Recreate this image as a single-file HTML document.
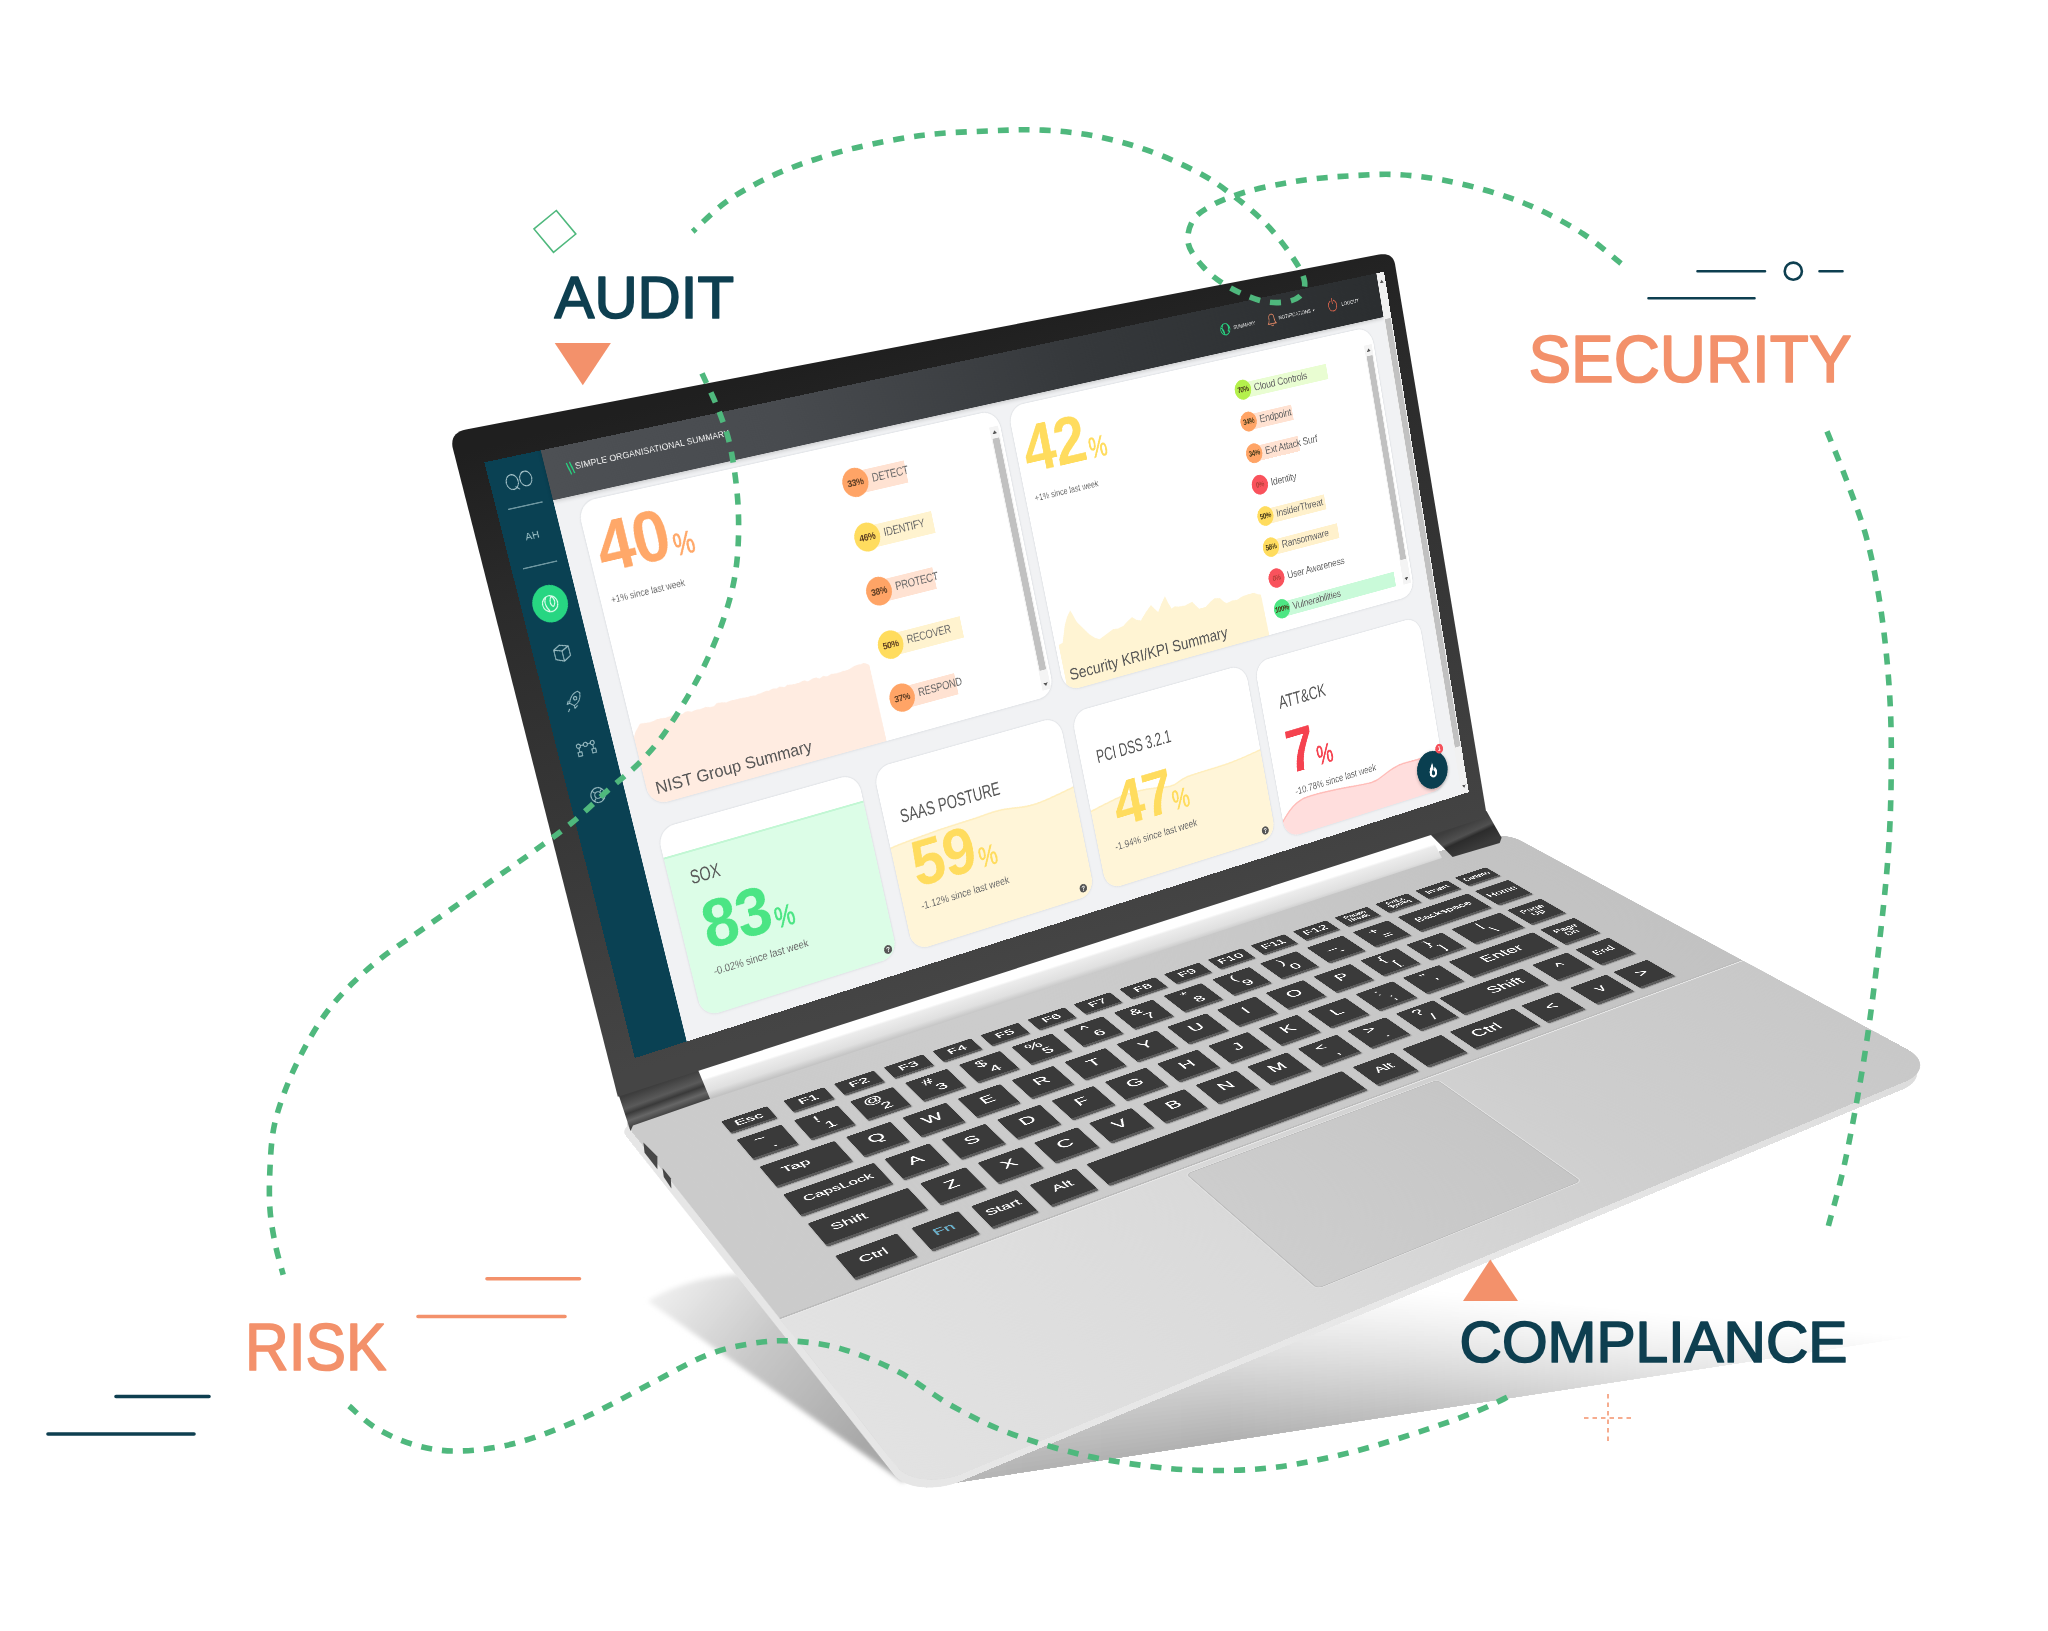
<!DOCTYPE html>
<html><head><meta charset="utf-8"><title>Laptop</title>
<style>
html,body{margin:0;padding:0}
body{width:2048px;height:1631px;position:relative;overflow:hidden;background:#fff;font-family:"Liberation Sans",sans-serif}
svg{display:block}
.layer{position:absolute;left:0;top:0;width:2048px;height:1631px}
#screen{position:absolute;left:0;top:0;width:1600px;height:900px;transform-origin:0 0;background:#f1f2f4;overflow:hidden;font-family:"Liberation Sans",sans-serif}
#screen .sb{position:absolute;left:0;top:0;width:86px;height:900px;background:#0a4153}
#screen .ah{position:absolute;left:0;width:86px;top:105px;text-align:center;color:#9fc3c9;font-size:15px;letter-spacing:.5px}
#screen .hd{position:absolute;left:86px;top:0;width:1498px;height:72px;background:linear-gradient(90deg,#4d5054 0%,#484b4f 25%,#35383b 60%,#2b2e30 100%);box-shadow:0 2px 6px rgba(0,0,0,.18)}
#screen .ht{position:absolute;white-space:nowrap}
#screen .osb{position:absolute;left:1584px;top:0;width:16px;height:900px;background:#f1f1f1}
#screen .osb b,#screen .isb b{position:absolute;left:2px;right:2px;background:#c1c1c1;display:block}
#screen .isb{position:absolute;width:16px;background:#f4f4f4}
#screen i.up,#screen i.dn{position:absolute;left:4px;width:0;height:0;border-left:4px solid transparent;border-right:4px solid transparent}
#screen i.up{border-bottom:5px solid #555}
#screen i.dn{border-top:5px solid #555}
#screen .card{position:absolute;background:#fff;border-radius:28px;overflow:hidden;box-shadow:0 0 0 1.5px #e4e6e9,0 1px 5px rgba(0,0,0,.06)}
#screen .big{position:absolute;font-weight:bold;font-size:104px;line-height:1;letter-spacing:-1.5px;white-space:nowrap}
#screen .big span{font-weight:normal;font-size:46px;margin-left:4px;-webkit-text-stroke:1px currentColor;letter-spacing:0;display:inline-block;transform:scaleX(.82);transform-origin:0 50%}
#screen .cap{position:absolute;font-size:14.5px;color:#6a6a6a;white-space:nowrap;transform:scaleX(.9);transform-origin:0 50%}
#screen .cap.c2{font-size:17px;transform:scaleX(.93)}
#screen .ttl{position:absolute;font-size:26.5px;color:#555;white-space:nowrap}
#screen .st{position:absolute;font-size:30px;color:#555;white-space:nowrap;transform:scaleX(.8);transform-origin:0 50%;line-height:1}
#screen .pl{position:absolute;left:421px;height:44px;width:260px}
#screen .pl b{position:absolute;left:0;top:0;width:44px;height:44px;border-radius:50%;font-size:14.5px;line-height:44px;text-align:center;color:#5a3b22;font-weight:bold;letter-spacing:-.5px}
#screen .pl u{position:absolute;left:22px;top:6px;height:34px;display:block}
#screen .pl em{position:absolute;left:51px;top:11px;font-style:normal;font-size:18px;color:#666;white-space:nowrap;letter-spacing:-.3px;transform:scaleX(.9);transform-origin:0 50%}
#screen .ps{position:absolute;left:420px;height:32px;width:280px}
#screen .ps b{position:absolute;left:0;top:0;width:32px;height:32px;border-radius:50%;font-size:12px;line-height:32px;text-align:center;color:#4a3d1c;font-weight:bold;letter-spacing:-.8px}
#screen .ps u{position:absolute;left:16px;top:5px;height:25px;display:block}
#screen .ps em{position:absolute;left:38px;top:7px;font-style:normal;font-size:17px;color:#666;white-space:nowrap;letter-spacing:-.4px}
#screen .q{position:absolute;width:14px;height:14px;border-radius:50%;background:#555;color:#fff;font-size:11px;font-weight:bold;line-height:14px;text-align:center}
#screen .fab{position:absolute;left:1498px;top:809px;width:66px;height:66px;border-radius:50%;background:#0a3f50;box-shadow:0 2px 6px rgba(0,0,0,.3)}
#screen .fab em{position:absolute;left:46px;top:-8px;width:17px;height:17px;border-radius:50%;background:#f5505a;color:#fff;font-size:11px;font-style:normal;font-weight:bold;line-height:17px;text-align:center}
/* keyboard */
#base{position:absolute;left:0;top:0;width:1600px;height:620px;transform-origin:0 0;font-family:"Liberation Sans",sans-serif}
#base .deck{position:absolute;left:-137px;top:-125px;width:1875px;height:1290px;clip-path:path("M40 0L1809 0A55 65 0 0 1 1864.5 65L1875 1210A80 80 0 0 1 1795 1290L76 1290A70 70 0 0 1 6 1220L0 40A40 40 0 0 1 40 0Z");background:linear-gradient(90deg,#cbcbcb 0%,#cccccc 40%,#c2c2c2 100%)}
#base .palm{position:absolute;left:0;top:766px;width:1875px;height:524px;background:linear-gradient(90deg,#e2e2e2 0%,#dadada 35%,#cecece 70%,#c8c8c8 100%);border-top:4px solid #bcbcbc;box-shadow:inset 0 3px 0 #e6e6e6;box-sizing:border-box}
#base .tp{position:absolute;left:556px;top:662px;width:492px;height:419px;border-radius:10px;background:linear-gradient(90deg,#cdcdcd,#c6c6c6);box-shadow:0 0 0 2px #bdbdbd inset, 0 0 0 2px #e0e0e0}
#base .k{position:absolute;height:78px;background:#3a3a3a;border-radius:4px;border-bottom:8px solid #5c5c5c;box-shadow:0 3px 3px rgba(0,0,0,.25);color:#fff;font-size:37px;line-height:72px;text-shadow:0 0 1.2px rgba(255,255,255,.85);text-align:center;white-space:nowrap;overflow:hidden}
#base .k.f{height:47px;border-bottom-width:7px;font-size:30px;line-height:46px}
#base .k.w{font-size:30px}
#base .k.l{text-align:left;padding-left:26px;box-sizing:content-box}
#base .k.d{font-size:34px;line-height:31px;padding-top:6px;height:72px}
#base .k.d span{display:block}
#base .k.d .u{transform:translateX(-7px)}
#base .k.d .v{transform:translateX(7px)}
#base .k.s{font-size:22px;line-height:21px;padding-top:16px;height:62px}
#base .k.f.s{font-size:18px;line-height:16px;padding-top:7px;height:40px;letter-spacing:-.5px}

#screen{transform:matrix3d(0.7143318991,-0.08926903759,0,0.0001098857652,0.2101890248,0.7334889474,0,6.767491356e-05,0,0,1,0,484.4,462.3,0,1)}
#base,#base2{transform:matrix3d(0.6309046546,-0.06972183634,0,0.0001028057699,0.07278772522,0.03980206385,0,-0.0001699934285,0,0,1,0,721.1,1121.4,0,1)}
</style></head>
<body>
<!-- shadows -->
<svg class="layer" viewBox="0 0 2048 1631">
 <defs>
  <linearGradient id="shH" gradientUnits="userSpaceOnUse" x1="900" y1="0" x2="1915" y2="0">
   <stop offset="0" stop-color="#000" stop-opacity=".27"/><stop offset=".12" stop-color="#000" stop-opacity=".30"/><stop offset=".32" stop-color="#000" stop-opacity=".31"/><stop offset=".5" stop-color="#000" stop-opacity=".25"/><stop offset=".68" stop-color="#000" stop-opacity=".15"/><stop offset=".86" stop-color="#000" stop-opacity=".06"/><stop offset="1" stop-color="#000" stop-opacity="0"/>
  </linearGradient>
  <linearGradient id="shL" gradientUnits="userSpaceOnUse" x1="660" y1="1285" x2="860" y2="1450">
   <stop offset="0" stop-color="#efefef"/><stop offset=".45" stop-color="#c8c8c8"/><stop offset="1" stop-color="#a8a8a8"/>
  </linearGradient>
  <mask id="shM" maskUnits="userSpaceOnUse" x="850" y="1150" width="1198" height="481"><rect x="850" y="1150" width="1198" height="481" fill="#000"/><path d="M1915.0 1336.0L860.0 1497.2L860.0 1230.5Z" fill="rgb(1,1,1)"/><path d="M1915.0 1336.0L860.0 1497.2L860.0 1236.1Z" fill="rgb(3,3,3)"/><path d="M1915.0 1336.0L860.0 1497.2L860.0 1241.6Z" fill="rgb(6,6,6)"/><path d="M1915.0 1336.0L860.0 1497.2L860.0 1247.2Z" fill="rgb(10,10,10)"/><path d="M1915.0 1336.0L860.0 1497.2L860.0 1252.7Z" fill="rgb(13,13,13)"/><path d="M1915.0 1336.0L860.0 1497.2L860.0 1258.3Z" fill="rgb(17,17,17)"/><path d="M1915.0 1336.0L860.0 1497.2L860.0 1263.8Z" fill="rgb(21,21,21)"/><path d="M1915.0 1336.0L860.0 1497.2L860.0 1269.4Z" fill="rgb(25,25,25)"/><path d="M1915.0 1336.0L860.0 1497.2L860.0 1275.0Z" fill="rgb(29,29,29)"/><path d="M1915.0 1336.0L860.0 1497.2L860.0 1280.5Z" fill="rgb(34,34,34)"/><path d="M1915.0 1336.0L860.0 1497.2L860.0 1286.1Z" fill="rgb(38,38,38)"/><path d="M1915.0 1336.0L860.0 1497.2L860.0 1291.6Z" fill="rgb(43,43,43)"/><path d="M1915.0 1336.0L860.0 1497.2L860.0 1297.2Z" fill="rgb(47,47,47)"/><path d="M1915.0 1336.0L860.0 1497.2L860.0 1302.7Z" fill="rgb(52,52,52)"/><path d="M1915.0 1336.0L860.0 1497.2L860.0 1308.3Z" fill="rgb(57,57,57)"/><path d="M1915.0 1336.0L860.0 1497.2L860.0 1313.8Z" fill="rgb(62,62,62)"/><path d="M1915.0 1336.0L860.0 1497.2L860.0 1319.4Z" fill="rgb(67,67,67)"/><path d="M1915.0 1336.0L860.0 1497.2L860.0 1325.0Z" fill="rgb(72,72,72)"/><path d="M1915.0 1336.0L860.0 1497.2L860.0 1330.5Z" fill="rgb(77,77,77)"/><path d="M1915.0 1336.0L860.0 1497.2L860.0 1336.1Z" fill="rgb(83,83,83)"/><path d="M1915.0 1336.0L860.0 1497.2L860.0 1341.6Z" fill="rgb(88,88,88)"/><path d="M1915.0 1336.0L860.0 1497.2L860.0 1347.2Z" fill="rgb(93,93,93)"/><path d="M1915.0 1336.0L860.0 1497.2L860.0 1352.7Z" fill="rgb(99,99,99)"/><path d="M1915.0 1336.0L860.0 1497.2L860.0 1358.3Z" fill="rgb(104,104,104)"/><path d="M1915.0 1336.0L860.0 1497.2L860.0 1363.9Z" fill="rgb(110,110,110)"/><path d="M1915.0 1336.0L860.0 1497.2L860.0 1369.4Z" fill="rgb(116,116,116)"/><path d="M1915.0 1336.0L860.0 1497.2L860.0 1375.0Z" fill="rgb(121,121,121)"/><path d="M1915.0 1336.0L860.0 1497.2L860.0 1380.5Z" fill="rgb(127,127,127)"/><path d="M1915.0 1336.0L860.0 1497.2L860.0 1386.1Z" fill="rgb(133,133,133)"/><path d="M1915.0 1336.0L860.0 1497.2L860.0 1391.6Z" fill="rgb(139,139,139)"/><path d="M1915.0 1336.0L860.0 1497.2L860.0 1397.2Z" fill="rgb(145,145,145)"/><path d="M1915.0 1336.0L860.0 1497.2L860.0 1402.7Z" fill="rgb(151,151,151)"/><path d="M1915.0 1336.0L860.0 1497.2L860.0 1408.3Z" fill="rgb(157,157,157)"/><path d="M1915.0 1336.0L860.0 1497.2L860.0 1413.9Z" fill="rgb(163,163,163)"/><path d="M1915.0 1336.0L860.0 1497.2L860.0 1419.4Z" fill="rgb(169,169,169)"/><path d="M1915.0 1336.0L860.0 1497.2L860.0 1425.0Z" fill="rgb(175,175,175)"/><path d="M1915.0 1336.0L860.0 1497.2L860.0 1430.5Z" fill="rgb(181,181,181)"/><path d="M1915.0 1336.0L860.0 1497.2L860.0 1436.1Z" fill="rgb(187,187,187)"/><path d="M1915.0 1336.0L860.0 1497.2L860.0 1441.6Z" fill="rgb(194,194,194)"/><path d="M1915.0 1336.0L860.0 1497.2L860.0 1447.2Z" fill="rgb(200,200,200)"/><path d="M1915.0 1336.0L860.0 1497.2L860.0 1452.8Z" fill="rgb(206,206,206)"/><path d="M1915.0 1336.0L860.0 1497.2L860.0 1458.3Z" fill="rgb(213,213,213)"/><path d="M1915.0 1336.0L860.0 1497.2L860.0 1463.9Z" fill="rgb(219,219,219)"/><path d="M1915.0 1336.0L860.0 1497.2L860.0 1469.4Z" fill="rgb(225,225,225)"/><path d="M1915.0 1336.0L860.0 1497.2L860.0 1475.0Z" fill="rgb(232,232,232)"/><path d="M1915.0 1336.0L860.0 1497.2L860.0 1480.5Z" fill="rgb(239,239,239)"/><path d="M1915.0 1336.0L860.0 1497.2L860.0 1486.1Z" fill="rgb(245,245,245)"/><path d="M1915.0 1336.0L860.0 1497.2L860.0 1491.6Z" fill="rgb(252,252,252)"/></mask>
  <filter id="blL" x="-10%" y="-10%" width="120%" height="120%"><feGaussianBlur stdDeviation="2.5"/></filter>
  <clipPath id="shC"><path d="M928 1480L1010 1380L2048 1150V1631H900Z"/></clipPath>
 </defs>
 <g clip-path="url(#shC)"><rect x="850" y="1150" width="1198" height="481" fill="url(#shH)" mask="url(#shM)"/></g>
 <path d="M648 1301C667 1289 700 1276 744 1274L800 1330L915 1470L903 1482Z" fill="url(#shL)" filter="url(#blL)"/>
</svg>
<!-- base underside (thickness) -->
<div id="base2" style="position:absolute;left:0;top:0;width:1600px;height:620px;transform-origin:0 0;margin-left:-2.8px;margin-top:8px">
 <div style="position:absolute;left:-137px;top:-125px;width:1875px;height:1290px;clip-path:path(&quot;M40 0L1809 0A55 65 0 0 1 1864.5 65L1875 1210A80 80 0 0 1 1795 1290L76 1290A70 70 0 0 1 6 1220L0 40A40 40 0 0 1 40 0Z&quot;);background:linear-gradient(90deg,#e6e6e6 0%,#e8e8e8 50%,#dcdcdc 100%)"></div>
</div>
<div id="base">
 <div class="deck"><div class="palm"></div></div>
 <div class="tp"></div>
<div class="k f" style="left:0px;top:0px;width:83px;">Esc</div>
<div class="k f" style="left:113.0px;top:0px;width:75px;">F1</div>
<div class="k f" style="left:207.1px;top:0px;width:75px;">F2</div>
<div class="k f" style="left:301.1px;top:0px;width:75px;">F3</div>
<div class="k f" style="left:395.2px;top:0px;width:75px;">F4</div>
<div class="k f" style="left:489.3px;top:0px;width:75px;">F5</div>
<div class="k f" style="left:583.3px;top:0px;width:75px;">F6</div>
<div class="k f" style="left:677.4px;top:0px;width:75px;">F7</div>
<div class="k f" style="left:771.5px;top:0px;width:75px;">F8</div>
<div class="k f" style="left:865.6px;top:0px;width:75px;">F9</div>
<div class="k f" style="left:959.6px;top:0px;width:75px;">F10</div>
<div class="k f" style="left:1053.7px;top:0px;width:75px;">F11</div>
<div class="k f" style="left:1147.8px;top:0px;width:75px;">F12</div>
<div class="k f s" style="left:1241.8px;top:0px;width:75px;">Pause<br>Break</div>
<div class="k f s" style="left:1335.9px;top:0px;width:75px;">PrtSc<br>SysRq</div>
<div class="k f" style="left:1430.0px;top:0px;width:75px;font-size:22px;letter-spacing:-.5px">Insert</div>
<div class="k f" style="left:1524.0px;top:0px;width:75px;font-size:22px;letter-spacing:-.5px">Delete</div>
<div class="k d" style="left:0px;top:78px;width:80px;"><span class="u">~</span><span class="v">.</span></div>
<div class="k d" style="left:103px;top:78px;width:80px;"><span class="u">!</span><span class="v">1</span></div>
<div class="k d" style="left:206px;top:78px;width:80px;"><span class="u">@</span><span class="v">2</span></div>
<div class="k d" style="left:309px;top:78px;width:80px;"><span class="u">#</span><span class="v">3</span></div>
<div class="k d" style="left:412px;top:78px;width:80px;"><span class="u">$</span><span class="v">4</span></div>
<div class="k d" style="left:515px;top:78px;width:80px;"><span class="u">%</span><span class="v">5</span></div>
<div class="k d" style="left:618px;top:78px;width:80px;"><span class="u">^</span><span class="v">6</span></div>
<div class="k d" style="left:721px;top:78px;width:80px;"><span class="u">&amp;</span><span class="v">7</span></div>
<div class="k d" style="left:824px;top:78px;width:80px;"><span class="u">*</span><span class="v">8</span></div>
<div class="k d" style="left:927px;top:78px;width:80px;"><span class="u">(</span><span class="v">9</span></div>
<div class="k d" style="left:1030px;top:78px;width:80px;"><span class="u">)</span><span class="v">0</span></div>
<div class="k d" style="left:1133px;top:78px;width:80px;"><span class="u">_</span><span class="v">-</span></div>
<div class="k d" style="left:1236px;top:78px;width:80px;"><span class="u">+</span><span class="v">=</span></div>
<div class="k w" style="left:1339px;top:78px;width:164px;font-size:26px">Backspace</div>
<div class="k w" style="left:1520px;top:78px;width:80px;font-size:25px">Home</div>
<div class="k w l" style="left:0px;top:190px;width:107px;">Tap</div>
<div class="k " style="left:154px;top:190px;width:81px;">Q</div>
<div class="k " style="left:257px;top:190px;width:81px;">W</div>
<div class="k " style="left:360px;top:190px;width:81px;">E</div>
<div class="k " style="left:463px;top:190px;width:81px;">R</div>
<div class="k " style="left:566px;top:190px;width:81px;">T</div>
<div class="k " style="left:669px;top:190px;width:81px;">Y</div>
<div class="k " style="left:772px;top:190px;width:81px;">U</div>
<div class="k " style="left:875px;top:190px;width:81px;">I</div>
<div class="k " style="left:978px;top:190px;width:81px;">O</div>
<div class="k " style="left:1081px;top:190px;width:81px;">P</div>
<div class="k d" style="left:1184px;top:190px;width:81px;"><span class="u">{</span><span class="v">[</span></div>
<div class="k d" style="left:1287px;top:190px;width:81px;"><span class="u">}</span><span class="v">]</span></div>
<div class="k d" style="left:1390px;top:190px;width:113px;"><span class="u">|</span><span class="v">\</span></div>
<div class="k s" style="left:1520px;top:190px;width:80px;">Page<br>Up</div>
<div class="k w l" style="left:0px;top:301px;width:137px;font-size:27px;padding-left:22px">CapsLock</div>
<div class="k " style="left:178px;top:301px;width:81px;">A</div>
<div class="k " style="left:281px;top:301px;width:81px;">S</div>
<div class="k " style="left:384px;top:301px;width:81px;">D</div>
<div class="k " style="left:487px;top:301px;width:81px;">F</div>
<div class="k " style="left:590px;top:301px;width:81px;">G</div>
<div class="k " style="left:693px;top:301px;width:81px;">H</div>
<div class="k " style="left:796px;top:301px;width:81px;">J</div>
<div class="k " style="left:899px;top:301px;width:81px;">K</div>
<div class="k " style="left:1002px;top:301px;width:81px;">L</div>
<div class="k d" style="left:1105px;top:301px;width:81px;"><span class="u">:</span><span class="v">;</span></div>
<div class="k d" style="left:1208px;top:301px;width:81px;"><span class="u">&quot;</span><span class="v">'</span></div>
<div class="k " style="left:1310px;top:301px;width:193px;">Enter</div>
<div class="k s" style="left:1520px;top:301px;width:80px;">Page<br>Dn</div>
<div class="k w l" style="left:0px;top:412px;width:147px;">Shift</div>
<div class="k " style="left:195px;top:412px;width:81px;">Z</div>
<div class="k " style="left:298px;top:412px;width:81px;">X</div>
<div class="k " style="left:401px;top:412px;width:81px;">C</div>
<div class="k " style="left:504px;top:412px;width:81px;">V</div>
<div class="k " style="left:607px;top:412px;width:81px;">B</div>
<div class="k " style="left:710px;top:412px;width:81px;">N</div>
<div class="k " style="left:813px;top:412px;width:81px;">M</div>
<div class="k d" style="left:916px;top:412px;width:81px;"><span class="u">&lt;</span><span class="v">,</span></div>
<div class="k d" style="left:1019px;top:412px;width:81px;"><span class="u">&gt;</span><span class="v">.</span></div>
<div class="k d" style="left:1122px;top:412px;width:81px;"><span class="u">?</span><span class="v">/</span></div>
<div class="k " style="left:1216px;top:412px;width:184px;"><span style="padding-left:60px">Shift</span></div>
<div class="k " style="left:1423px;top:412px;width:80px;">^</div>
<div class="k w" style="left:1522px;top:412px;width:78px;font-size:25px">End</div>
<div class="k w l" style="left:0px;top:531px;width:78px;">Ctrl</div>
<div class="k w" style="left:129px;top:531px;width:81px;"><span style="color:#5fb0cf">Fn</span></div>
<div class="k w" style="left:233px;top:531px;width:80px;font-size:28px">Start</div>
<div class="k w" style="left:337px;top:531px;width:83px;">Alt</div>
<div class="k " style="left:440px;top:531px;width:495px;"></div>
<div class="k w" style="left:957px;top:531px;width:83px;">Alt</div>
<div class="k " style="left:1060px;top:531px;width:82px;"></div>
<div class="k l" style="left:1160px;top:531px;width:112px;">Ctrl</div>
<div class="k " style="left:1315px;top:531px;width:82px;">&lt;</div>
<div class="k " style="left:1424px;top:531px;width:82px;">v</div>
<div class="k " style="left:1522px;top:531px;width:78px;">&gt;</div>
</div>
<!-- lid -->
<svg class="layer" viewBox="0 0 2048 1631">
 <defs>
  <linearGradient id="lidg" gradientUnits="userSpaceOnUse" x1="900" y1="340" x2="1060" y2="960">
   <stop offset="0" stop-color="#1f1f1f"/><stop offset=".25" stop-color="#2b2b2b"/><stop offset="1" stop-color="#454545"/>
  </linearGradient>
  <linearGradient id="barg" gradientUnits="userSpaceOnUse" x1="1060" y1="955" x2="1069" y2="983">
   <stop offset="0" stop-color="#ffffff"/><stop offset=".3" stop-color="#ffffff"/><stop offset=".38" stop-color="#ececec"/><stop offset=".75" stop-color="#e0e0e0"/><stop offset="1" stop-color="#c2c2c2"/>
  </linearGradient>
  <linearGradient id="hng" gradientUnits="userSpaceOnUse" x1="655" y1="1085" x2="667" y2="1118">
   <stop offset="0" stop-color="#3d3d3d"/><stop offset=".35" stop-color="#5a5a5a"/><stop offset=".5" stop-color="#3a3a3a"/><stop offset=".7" stop-color="#666"/><stop offset="1" stop-color="#2e2e2e"/>
  </linearGradient>
  <linearGradient id="hng2" gradientUnits="userSpaceOnUse" x1="1455" y1="828" x2="1466" y2="852">
   <stop offset="0" stop-color="#3d3d3d"/><stop offset=".4" stop-color="#505050"/><stop offset=".55" stop-color="#2c2c2c"/><stop offset="1" stop-color="#3a3a3a"/>
  </linearGradient>
 </defs>
 <!-- hinge bar -->
 <path d="M694 1071L1430 835L1442 858L708 1100Z" fill="url(#barg)"/>
 <!-- hinges -->
 <path d="M617 1090L696 1065L710 1098.7L633 1125.5L630.5 1131Z" fill="url(#hng)"/>
 <path d="M1426 830L1486.5 811L1501.6 837.7L1499.7 843L1452.6 857Z" fill="url(#hng2)"/>
 <!-- lid body -->
 <path d="M452.5 447C451 437 456 431.5 466 429.5L1379 254.5C1388 253 1393.5 256 1395 264L1487 817L617.8 1096.7Z" fill="url(#lidg)"/>
 <!-- ports -->
 <path d="M643.4 1142.5L657.4 1156.5L657.4 1169.3L644.6 1152.7Z" fill="#474747"/>
 <path d="M662.5 1168L670.8 1178.2L671.4 1188.4L663.8 1176.9Z" fill="#474747"/>
</svg>
<div id="screen">
 <div class="sb">
  <svg width="86" height="900" viewBox="0 0 86 900" style="position:absolute;left:0;top:0">
   <g fill="none" stroke="#b9d3d8" stroke-width="1.3">
    <ellipse cx="33" cy="35" rx="9" ry="10.5"/><ellipse cx="54" cy="34" rx="9" ry="10.5"/><path d="M36 42l6 5"/>
   </g>
   <path d="M17 71H70M17 157H70" stroke="#8fb3ba" stroke-width="1.6"/>
   <circle cx="44" cy="214" r="27" fill="#27d682"/>
   <g fill="none" stroke="#eafff4" stroke-width="1.6">
    <circle cx="44" cy="214" r="11.5"/><path d="M40 204c-5 5-4 13 1 20M48 204c3 3 6 9 0 15-4-2-5-9 0-15"/>
   </g>
   <g fill="none" stroke="#9fc0c6" stroke-width="1.5" stroke-linejoin="round">
    <path d="M32 280l10-5 13 4v14l-11 6-12-5zM32 280l12 4 11-5M44 284v15"/>
    <path d="M52 346c-8 1-14 7-16 14l6 5c7-2 12-8 13-16zM36 360l-4 1 3-5M42 365l0 4 5-3M34 368l-3 4"/><circle cx="46" cy="355" r="2.5"/>
    <circle cx="33" cy="424" r="3"/><circle cx="44" cy="424" r="3"/><circle cx="55" cy="424" r="3"/><path d="M36 424h5M47 424h5M33 427v6M55 427v6"/><rect x="30" y="433" width="6" height="6"/><rect x="52" y="433" width="6" height="6"/>
    <circle cx="44" cy="501" r="11"/><circle cx="44" cy="501" r="5"/><path d="M36 493l4 4M52 493l-4 4M36 509l4-4M52 509l-4-4"/>
   </g>
  </svg>
  <div class="ah">AH</div>
 </div>
 <div class="hd">
  <svg width="1500" height="72" viewBox="86 0 1500 72" style="position:absolute;left:0;top:0">
   <path d="M119 25l4 17M124 24l4 17" stroke="#27d682" stroke-width="2"/>
   <g fill="none" stroke-width="1.4">
    <g transform="translate(8 0)"><circle cx="1262" cy="37" r="9" stroke="#27d682"/><path d="M1259 29c-4 4-3 10 1 16M1266 29c3 3 4 8 0 12M1254 34c4 2 6 6 5 11M1270 33c-3 3-3 7-1 10" stroke="#27d682"/></g>
    <path transform="translate(18 0)" d="M1336 44h16c-3-3-3-6-3-10 0-7-10-7-10 0 0 4 0 7-3 10zM1342 46c1 2 3 2 4 0" stroke="#e88a66"/>
    <path d="M1483 28c-8 4-6 17 3 17s11-13 3-17M1486 24v10" stroke="#e8694f"/>
   </g>
  </svg>
  <div class="ht" style="left:45px;top:24px;font-size:13.5px;letter-spacing:0.1px;color:#f2f2f2">SIMPLE ORGANISATIONAL SUMMARY</div>
  <div class="ht" style="left:1200px;top:32px;font-size:8.5px;color:#e8e8e8">SUMMARY</div>
  <div class="ht" style="left:1290px;top:32px;font-size:8.5px;color:#e8e8e8">NOTIFICATIONS <span style="display:inline-block;width:0;height:0;border-left:2.5px solid transparent;border-right:2.5px solid transparent;border-top:3.5px solid #e8e8e8;vertical-align:middle;margin-left:2px"></span></div>
  <div class="ht" style="left:1418px;top:32px;font-size:8.5px;color:#e8e8e8">LOGOUT</div>
 </div>
 <div class="osb"><i class="up" style="top:12px"></i><b style="top:76px;height:740px"></b><i class="dn" style="bottom:10px"></i></div>

 <!-- Card 1 -->
 <div class="card" style="left:120px;top:83px;width:708px;height:455px">
  <svg width="708" height="455" style="position:absolute;left:0;top:0"><path fill="#ffece1" d="M0 349L4 342L10 336L14 332.1L20 332.5L28 333.5L33 333.4L41 332.1L47 331.9L55 333.1L63 332.6L69 332.0L75 334.3L83 333.9L88 331.8L93 332.3L98 334.2L105 332.9L113 333.8L121 332.6L129 334.7L135 334.4L140 331.3L148 332.0L156 334.0L163 332.7L171 333.3L179 333.3L186 333.7L191 334.3L197 333.7L204 334.7L209 333.8L215 333.5L222 332.2L227 332.9L235 331.5L240 332.7L246 331.3L254 334.0L259 331.4L264 332.6L271 333.2L278 333.0L283 332.3L288 331.6L293 334.6L301 332.2L308 331.8L313 334.7L320 332.3L326 334.4L334 332.6L342 333.5L347 333.4L354 332.8L362 333L368 331.5L374 330L380 329L386 329.5L392 329L396 331L400 334L401 456L0 456Z"/></svg>
  <div class="big" style="left:14px;top:18px;color:#ffa869">40<span>%</span></div>
  <div class="cap" style="left:16px;top:138px">+1% since last week</div>
  <div class="ttl" style="left:14px;top:416px">NIST Group Summary</div>
  <div class="pl" style="top:38px"><u style="width:88px;background:#ffe2d2"></u><b style="background:#ffa466">33%</b><em>DETECT</em></div>
  <div class="pl" style="top:122px"><u style="width:116px;background:#fff3cf"></u><b style="background:#ffdc5e">46%</b><em>IDENTIFY</em></div>
  <div class="pl" style="top:206px"><u style="width:98px;background:#ffe2d2"></u><b style="background:#ffa466">38%</b><em>PROTECT</em></div>
  <div class="pl" style="top:290px"><u style="width:127px;background:#fff3cf"></u><b style="background:#ffdc5e">50%</b><em>RECOVER</em></div>
  <div class="pl" style="top:374px"><u style="width:97px;background:#ffe2d2"></u><b style="background:#ffa466">37%</b><em>RESPOND</em></div>
  <div class="isb" style="left:688px;top:24px;height:420px"><i class="up" style="top:6px"></i><b style="top:18px;height:370px"></b><i class="dn" style="bottom:6px"></i></div>
 </div>

 <!-- Card 2 -->
 <div class="card" style="left:847px;top:83px;width:708px;height:455px">
  <svg width="702" height="455" style="position:absolute;left:6px;top:0"><path fill="#fff4d3" d="M-4 381L8 378L18 352L25 340L33 331L41 352L50 364L59 376L68 384L76 388L90 383L104 378L114 379L124 377L134 371L143 367L150 373L158 376L170 365L182 356L188 364L193 370L202 358L211 348L215 360L219 370L226 368L233 370L246 371L260 368L266 376L271 382L284 382L294 376L304 372L314 374L320 381L325 385L336 383L346 384L356 381L367 380L381 380L388 384L394 386L396 455L-4 455Z"/></svg>
  <div class="big" style="left:13px;top:18px;color:#ffdc5e">42<span>%</span></div>
  <div class="cap" style="left:16px;top:138px">+1% since last week</div>
  <div class="ttl" style="left:15px;top:416px;font-size:26px;transform:scaleX(.985);transform-origin:0 0">Security KRI/KPI Summary</div>
  <div class="ps" style="top:38px"><u style="width:170px;background:#e9fdd2"></u><b style="background:#b4f04c">70%</b><em>Cloud Controls</em></div>
  <div class="ps" style="top:90px"><u style="width:88px;background:#ffe2d2"></u><b style="background:#ffa466">34%</b><em>Endpoint</em></div>
  <div class="ps" style="top:142px"><u style="width:90px;background:#ffe2d2"></u><b style="background:#ffa466">34%</b><em>Ext Attack Surf</em></div>
  <div class="ps" style="top:194px"><b style="background:#f9525c;color:#b5403a">0%</b><em>Identity</em></div>
  <div class="ps" style="top:246px"><u style="width:122px;background:#fff1cc"></u><b style="background:#ffdc5e">50%</b><em>InsiderThreat</em></div>
  <div class="ps" style="top:298px"><u style="width:138px;background:#fff1cc"></u><b style="background:#ffdc5e">56%</b><em>Ransomware</em></div>
  <div class="ps" style="top:350px"><b style="background:#f9525c;color:#b5403a">0%</b><em>User Awareness</em></div>
  <div class="ps" style="top:402px"><u style="width:236px;background:#c9fad9"></u><b style="background:#4ce683">100%</b><em>Vulnerabilities</em></div>
  <div class="isb" style="left:688px;top:28px;height:405px"><i class="up" style="top:6px"></i><b style="top:18px;height:345px"></b><i class="dn" style="bottom:6px"></i></div>
 </div>

 <!-- SOX -->
 <div class="card" style="left:120px;top:574px;width:340px;height:298px;background:#fff">
  <div style="position:absolute;left:0;right:0;top:44px;bottom:0;background:#dcfde7;border-top:3px solid #c2f7d4"></div>
  <div class="st" style="left:34px;top:70px;transform:scaleX(.77)">SOX</div>
  <div class="big" style="left:35px;top:111px;color:#4be584">83<span>%</span></div>
  <div class="cap c2" style="left:35px;top:225px">-0.02% since last week</div>
  <div class="q" style="left:319px;top:276px">?</div>
 </div>
 <!-- SAAS -->
 <div class="card" style="left:488px;top:574px;width:340px;height:298px">
  <svg width="340" height="298" viewBox="0 -9 340 298" style="position:absolute;left:0;top:0"><path fill="#fff5d8" stroke="#ffeebd" stroke-width="2.5" d="M-3 120C30 116 50 116 80 114S150 113 175 111S215 112 240 116S290 116 343 108V292H-3Z"/></svg>
  <div class="st" style="left:28px;top:70px;transform:scaleX(.776)">SAAS POSTURE</div>
  <div class="big" style="left:30px;top:113px;color:#ffdc5e">59<span>%</span></div>
  <div class="cap c2" style="left:30px;top:223px">-1.12% since last week</div>
  <div class="q" style="left:314px;top:276px">?</div>
 </div>
 <!-- PCI -->
 <div class="card" style="left:851px;top:574px;width:340px;height:298px">
  <svg width="340" height="298" viewBox="0 -9 340 298" style="position:absolute;left:0;top:0"><path fill="#fff5d8" stroke="#ffeebd" stroke-width="2.5" d="M-3 156C20 152 40 148 60 146S110 145 140 151S170 148 190 146S250 146 280 144S320 140 343 137V292H-3Z"/></svg>
  <div class="st" style="left:30px;top:66px;transform:scaleX(.74)">PCI DSS 3.2.1</div>
  <div class="big" style="left:44px;top:115px;color:#ffdc5e">47<span style="margin-left:-3px">%</span></div>
  <div class="cap c2" style="left:31px;top:224px">-1.94% since last week</div>
  <div class="q" style="left:314px;top:275px">?</div>
 </div>
 <!-- ATTACK -->
 <div class="card" style="left:1210px;top:576px;width:345px;height:304px">
  <svg width="345" height="304" viewBox="-2 -7 345 304" style="position:absolute;left:0;top:0"><path fill="#ffdedd" stroke="#ffbcb8" stroke-width="2.5" d="M-5 270C10 256 25 243 45 240S100 240 140 244S190 250 205 246S235 234 255 233S300 236 346 232V300H-5Z"/></svg>
  <div class="st" style="left:34px;top:62px;transform:scaleX(.83)">ATT&amp;CK</div>
  <div class="big" style="left:31px;top:111px;color:#f5424f">7<span style="margin-left:3px">%</span></div>
  <div class="cap c2" style="left:35px;top:222px">-10.78% since last week</div>
 </div>
 <div class="fab"><svg width="66" height="66" viewBox="0 0 58 58"><path fill="#fff" d="M30 16c1 6-7 9-7 17 0 5 3 8 7 8s7-3 7-8c0-4-2-6-3-8-1 3-2 4-3 4 1-5 0-10-1-13zM30 38c-2 0-3-2-3-4s2-3 3-6c1 3 3 4 3 6s-1 4-3 4z"/></svg><em>1</em></div>
</div>

<!-- overlay -->
<svg class="layer" viewBox="0 0 2048 1631" style="font-family:'Liberation Sans',sans-serif">
 <path d="M702.0 373.4C704.9 379.9 714.6 399.5 719.5 412.5C724.4 425.5 728.2 435.3 731.3 451.6C734.4 467.9 737.5 490.7 738.3 510.2C739.1 529.7 738.5 550.6 736.0 568.8C733.5 587.0 729.4 601.9 723.4 619.5C717.4 637.1 709.4 655.9 700.0 674.2C690.6 692.5 677.0 714.8 667.1 729.4C657.2 744.0 650.0 751.9 640.5 761.7C631.0 771.5 621.5 778.2 610.1 788.3C598.7 798.4 584.8 812.0 572.1 822.5C559.4 833.0 546.8 841.8 534.1 851.0C521.4 860.2 508.8 868.7 496.1 877.6C483.4 886.5 470.8 895.4 458.1 904.3C445.4 913.2 432.8 922.0 420.1 930.9C407.4 939.8 393.4 948.6 382.0 957.5C370.6 966.4 361.1 974.6 351.6 984.1C342.1 993.6 333.2 1003.1 325.0 1014.5C316.8 1025.9 308.8 1039.8 302.2 1052.5C295.6 1065.2 289.9 1077.8 285.1 1090.5C280.4 1103.2 276.2 1115.2 273.7 1128.5C271.2 1141.8 270.5 1157.0 269.9 1170.3C269.3 1183.6 269.1 1196.3 269.9 1208.3C270.7 1220.3 272.7 1231.4 274.9 1242.5C277.1 1253.6 281.8 1269.4 283.2 1274.8 M349.1 1406.0C353.6 1409.7 365.0 1421.5 376.0 1428.0C387.0 1434.5 401.2 1441.2 415.0 1445.0C428.8 1448.8 441.9 1451.4 459.0 1451.0C476.1 1450.6 496.4 1448.3 517.6 1442.6C538.8 1436.9 563.2 1427.0 586.0 1416.8C608.8 1406.6 634.0 1391.9 654.3 1381.6C674.6 1371.2 691.7 1361.0 708.0 1354.7C724.3 1348.4 738.2 1345.8 752.0 1343.5C765.8 1341.2 776.4 1340.2 791.0 1341.0C805.6 1341.8 821.9 1343.3 839.8 1348.4C857.7 1353.5 879.7 1362.2 898.4 1371.8C917.1 1381.4 933.7 1395.8 952.1 1406.0C970.5 1416.2 987.1 1424.8 1008.8 1432.9C1030.5 1441.0 1057.6 1449.1 1082.0 1454.8C1106.4 1460.5 1133.3 1464.4 1155.3 1467.0C1177.3 1469.6 1193.6 1470.5 1213.9 1470.5C1234.2 1470.5 1254.6 1470.0 1277.4 1467.0C1300.2 1464.0 1326.2 1458.5 1350.6 1452.4C1375.0 1446.3 1402.6 1437.3 1423.8 1430.4C1445.0 1423.5 1463.3 1416.6 1477.6 1410.9C1491.8 1405.2 1504.0 1398.7 1509.3 1396.2 M1828.4 1225.9C1831.3 1214.8 1839.6 1187.3 1845.6 1159.0C1851.6 1130.7 1859.1 1090.3 1864.5 1056.0C1869.9 1021.7 1874.2 987.3 1878.2 953.0C1882.2 918.7 1886.3 882.3 1888.5 850.0C1890.7 817.7 1891.2 786.9 1891.3 759.4C1891.4 731.9 1890.8 710.3 1889.0 684.7C1887.2 659.1 1884.0 629.8 1880.3 605.6C1876.6 581.4 1872.5 560.1 1867.0 539.6C1861.5 519.1 1854.3 501.2 1847.4 482.5C1840.5 463.8 1829.1 436.7 1825.4 427.5 M1621.0 263.5C1614.8 258.6 1597.2 243.0 1583.6 234.1C1570.0 225.2 1554.2 216.7 1539.6 209.9C1524.9 203.1 1511.8 198.2 1495.7 193.2C1479.6 188.2 1459.7 183.1 1442.9 180.0C1426.1 176.9 1410.5 175.2 1395.0 174.5C1379.5 173.8 1363.1 175.2 1350.0 175.9C1336.9 176.6 1327.8 177.3 1316.5 178.6C1305.2 179.9 1294.3 181.4 1282.3 183.7C1270.3 186.0 1256.1 188.9 1244.7 192.3C1233.3 195.7 1222.5 199.6 1214.0 204.2C1205.5 208.8 1197.8 213.0 1193.5 219.6C1189.2 226.2 1186.6 235.6 1188.3 243.6C1190.0 251.6 1197.2 260.4 1203.7 267.5C1210.2 274.6 1218.5 280.9 1227.6 286.3C1236.7 291.7 1249.3 297.3 1258.4 300.0C1267.5 302.7 1275.5 302.9 1282.3 302.3C1289.1 301.7 1295.7 300.0 1299.4 296.5C1303.1 293.0 1305.6 287.8 1304.5 281.2C1303.4 274.6 1299.1 266.9 1292.6 257.2C1286.0 247.5 1275.5 233.5 1265.2 223.0C1255.0 212.5 1242.5 202.5 1231.1 194.0C1219.7 185.5 1211.2 179.2 1196.9 171.8C1182.7 164.4 1162.7 155.6 1145.6 149.6C1128.5 143.6 1111.4 139.2 1094.3 135.9C1077.2 132.7 1060.2 130.9 1043.1 130.1C1026.0 129.2 1011.8 130.0 991.8 130.8C971.8 131.7 946.2 132.3 923.4 135.2C900.6 138.0 875.0 143.2 855.1 147.9C835.2 152.6 819.2 157.8 803.8 163.2C788.4 168.6 775.9 173.8 762.8 180.3C749.7 186.9 736.9 193.9 725.2 202.5C713.5 211.1 698.1 226.8 692.7 231.6" fill="none" stroke="#4fb87d" stroke-width="5.6" stroke-dasharray="11 10"/>
 <path d="M556.3 210.5L575.8 234L553.5 252.3L534 228.9Z" fill="none" stroke="#4fb87d" stroke-width="1.6"/>
 <path d="M554.7 343H610.9L582.8 385.2Z" fill="#f3916b"/>
 <path d="M1463 1301H1518L1490.3 1259.5Z" fill="#f3916b"/>
 <g stroke="#0e3f50" stroke-width="2.6" stroke-linecap="round" fill="none">
  <path d="M1697.5 271.2H1765M1819.5 271.2H1842.5M1648.5 298.2H1754.5"/><circle cx="1793.3" cy="271.2" r="8.6"/>
  <path d="M116 1396.5H209M48 1434H194" stroke-width="3.6"/>
 </g>
 <path d="M487 1278.7H579.5M418 1316.5H565" stroke="#f3916b" stroke-width="3.6" stroke-linecap="round"/>
 <path d="M1584 1417.9H1632M1608 1394V1443" stroke="#f3916b" stroke-width="1.5" stroke-dasharray="4.5 4"/>
 <text id="tA" x="554.5" y="318.3" font-size="59" fill="#0e3f50" stroke="#0e3f50" stroke-width="1.7" stroke-linejoin="round" textLength="179.5" lengthAdjust="spacingAndGlyphs">AUDIT</text>
 <text id="tS" x="1528.5" y="382.2" font-size="66" fill="#f3916b" stroke="#f3916b" stroke-width="1.7" stroke-linejoin="round" textLength="323" lengthAdjust="spacingAndGlyphs">SECURITY</text>
 <text id="tR" x="245" y="1369.9" font-size="67.5" fill="#f3916b" stroke="#f3916b" stroke-width="1.7" stroke-linejoin="round" textLength="141.5" lengthAdjust="spacingAndGlyphs">RISK</text>
 <text id="tC" x="1459.5" y="1361.6" font-size="58" fill="#0e3f50" stroke="#0e3f50" stroke-width="1.7" stroke-linejoin="round" textLength="388" lengthAdjust="spacingAndGlyphs">COMPLIANCE</text>
</svg>
</body></html>
